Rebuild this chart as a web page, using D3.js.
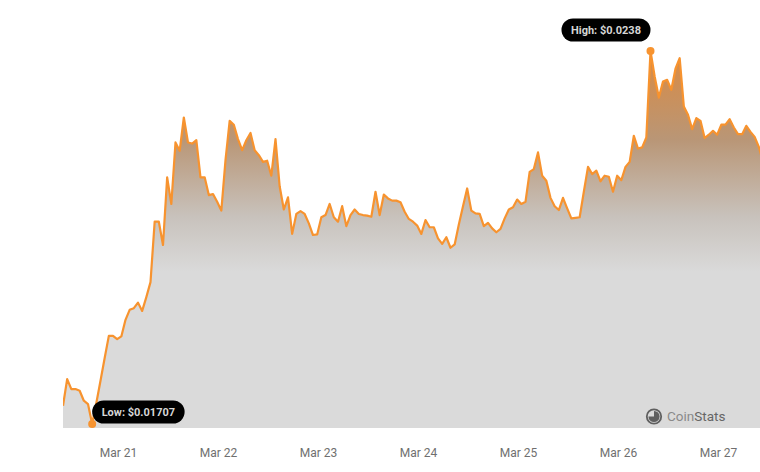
<!DOCTYPE html>
<html>
<head>
<meta charset="utf-8">
<script src="https://cdn.jsdelivr.net/npm/d3@7"></script>
<style>
  html, body { margin: 0; padding: 0; background: #fff; }
  svg { display: block; font-family: Roboto, "Noto Sans", sans-serif; }
</style>
</head>
<body>
<div class="chart"></div>
<script>
// hourly prices, Mar 20 ~10:48 to Mar 27 ~10:48
const startTime = new Date(2024, 2, 20, 10, 48)
const prices = [
  0.01740, 0.01788, 0.01770, 0.01770, 0.01767, 0.01749, 0.01743, 0.01707, 0.01745, 0.01785,
  0.01826, 0.01866, 0.01866, 0.01860, 0.01865, 0.01895, 0.01913, 0.01916, 0.01926, 0.01911,
  0.01936, 0.01963, 0.02072, 0.02072, 0.02030, 0.02152, 0.02104, 0.02215, 0.02200, 0.02260,
  0.02215, 0.02213, 0.02219, 0.02152, 0.02152, 0.02120, 0.02122, 0.02108, 0.02092, 0.02183,
  0.02254, 0.02247, 0.02221, 0.02201, 0.02219, 0.02232, 0.02201, 0.02192, 0.02180, 0.02182,
  0.02155, 0.02221, 0.02136, 0.02094, 0.02116, 0.02050, 0.02086, 0.02091, 0.02086, 0.02069,
  0.02048, 0.02049, 0.02080, 0.02084, 0.02104, 0.02080, 0.02072, 0.02100, 0.02064, 0.02084,
  0.02094, 0.02086, 0.02084, 0.02083, 0.02081, 0.02126, 0.02084, 0.02121, 0.02114, 0.02110,
  0.02110, 0.02107, 0.02090, 0.02077, 0.02072, 0.02065, 0.02050, 0.02075, 0.02062, 0.02062,
  0.02042, 0.02032, 0.02044, 0.02025, 0.02031, 0.02067, 0.02100, 0.02132, 0.02092, 0.02087,
  0.02086, 0.02064, 0.02070, 0.02060, 0.02053, 0.02059, 0.02078, 0.02094, 0.02098, 0.02112,
  0.02104, 0.02108, 0.02162, 0.02167, 0.02197, 0.02155, 0.02146, 0.02115, 0.02100, 0.02093,
  0.02115, 0.02096, 0.02078, 0.02079, 0.02080, 0.02126, 0.02171, 0.02158, 0.02164, 0.02145,
  0.02155, 0.02153, 0.02126, 0.02155, 0.02147, 0.02171, 0.02180, 0.02227, 0.02204, 0.02206,
  0.02224, 0.02380, 0.02334, 0.02296, 0.02325, 0.02328, 0.02310, 0.02348, 0.02367, 0.02280,
  0.02265, 0.02239, 0.02259, 0.02254, 0.02223, 0.02229, 0.02236, 0.02229, 0.02247, 0.02247,
  0.02257, 0.02242, 0.02230, 0.02230, 0.02245, 0.02234, 0.02225, 0.02207, 0.02180
]
const lowLabel = 'Low: $0.01707'
const highLabel = 'High: $0.0238'

const width = 760, height = 472
const plot = { left: 63, right: 760, top: 51, bottom: 428, lowY: 424 }
const dayWidth = 100
const lineColour = '#f7932f'

const data = prices.map((p, i) => ({ date: d3.timeHour.offset(startTime, i), price: p }))

const svg = d3.select('.chart').append('svg')
    .attr('width', width)
    .attr('height', height)

const hours = data.length - 1
const xScale = d3.scaleTime()
    .domain([data[0].date, data[hours].date])
    .range([plot.left, plot.left + hours * dayWidth / 24])

const yScale = d3.scaleLinear()
    .domain(d3.extent(prices))
    .range([plot.lowY, plot.top])

const defs = svg.append('defs')
defs.append('clipPath').attr('id', 'clip')
    .append('rect')
    .attr('x', plot.left).attr('y', 0)
    .attr('width', plot.right - plot.left).attr('height', plot.bottom)

const grad = defs.append('linearGradient')
    .attr('id', 'fillGrad')
    .attr('gradientUnits', 'userSpaceOnUse')
    .attr('x1', 0).attr('x2', 0)
    .attr('y1', yScale(d3.max(prices))).attr('y2', 272)
grad.append('stop').attr('offset', '0%').attr('stop-color', '#dc8a40')
grad.append('stop').attr('offset', '40%').attr('stop-color', '#b99676')
grad.append('stop').attr('offset', '75%').attr('stop-color', '#c8c2bc')
grad.append('stop').attr('offset', '100%').attr('stop-color', '#dadada')

const g = svg.append('g').attr('clip-path', 'url(#clip)')

const area = d3.area()
    .x(d => xScale(d.date))
    .y0(plot.bottom)
    .y1(d => yScale(d.price))

const line = d3.line()
    .x(d => xScale(d.date))
    .y(d => yScale(d.price))

g.append('path')
    .datum(data)
    .attr('d', area)
    .attr('fill', 'url(#fillGrad)')

g.append('path')
    .datum(data)
    .attr('d', line)
    .attr('fill', 'none')
    .attr('stroke', lineColour)
    .attr('stroke-width', 2.2)
    .attr('stroke-linejoin', 'round')

// x axis
const xAxis = d3.axisBottom(xScale)
    .ticks(d3.timeDay.every(1))
    .tickFormat(d3.timeFormat('%b %-d'))
    .tickSize(0)
    .tickPadding(0)
const gX = svg.append('g')
    .attr('transform', `translate(0, ${plot.bottom + 29})`)
    .call(xAxis)
gX.select('.domain').remove()
gX.selectAll('text')
    .attr('dy', 0)
    .style('font-size', '12px')
    .style('font-family', 'Roboto, sans-serif')
    .style('fill', '#6f6f6f')

// low / high markers
const lowPoint = data.find(d => d.price === d3.min(prices))
const highPoint = data.find(d => d.price === d3.max(prices))

function pill(text, x, y, anchorRight) {
    let lbl = svg.append('g')
    let t = lbl.append('text')
        .text(text)
        .attr('y', y)
        .attr('dy', '0.35em')
        .style('font-size', '11px')
        .style('font-weight', 'bold')
        .style('fill', '#d6d6d6')
    let w = t.node().getComputedTextLength() + 19
    let left = anchorRight ? x - w : x
    lbl.insert('rect', 'text')
        .attr('x', left).attr('y', y - 11.5)
        .attr('width', w).attr('height', 23)
        .attr('rx', 11.5)
        .attr('fill', '#000')
    t.attr('x', left + w / 2).attr('text-anchor', 'middle')
}

let lx = xScale(lowPoint.date), ly = yScale(lowPoint.price)
pill(lowLabel, lx, ly - 12, false)
svg.append('circle').attr('cx', lx).attr('cy', ly).attr('r', 4).attr('fill', lineColour)

let hx = xScale(highPoint.date), hy = yScale(highPoint.price)
pill(highLabel, hx, hy - 21, true)
svg.append('circle').attr('cx', hx).attr('cy', hy).attr('r', 4).attr('fill', lineColour)

// watermark
const wm = svg.append('g').attr('transform', 'translate(654, 416.5)')
wm.append('circle').attr('r', 7.2).attr('fill', 'none').attr('stroke', '#5f5f5f').attr('stroke-width', 1.8)
wm.append('path')
    .attr('d', d3.arc().innerRadius(0).outerRadius(5.6).startAngle(0).endAngle(Math.PI * 1.5)())
    .attr('fill', '#5f5f5f')
const wmText = svg.append('text')
    .attr('x', 667).attr('y', 421)
    .style('font-size', '13.5px')
    .style('font-family', 'Roboto, sans-serif')
wmText.append('tspan').text('Coin').style('fill', '#8a8a8a')
wmText.append('tspan').text('Stats').style('fill', '#666')
</script>
</body>
</html>
